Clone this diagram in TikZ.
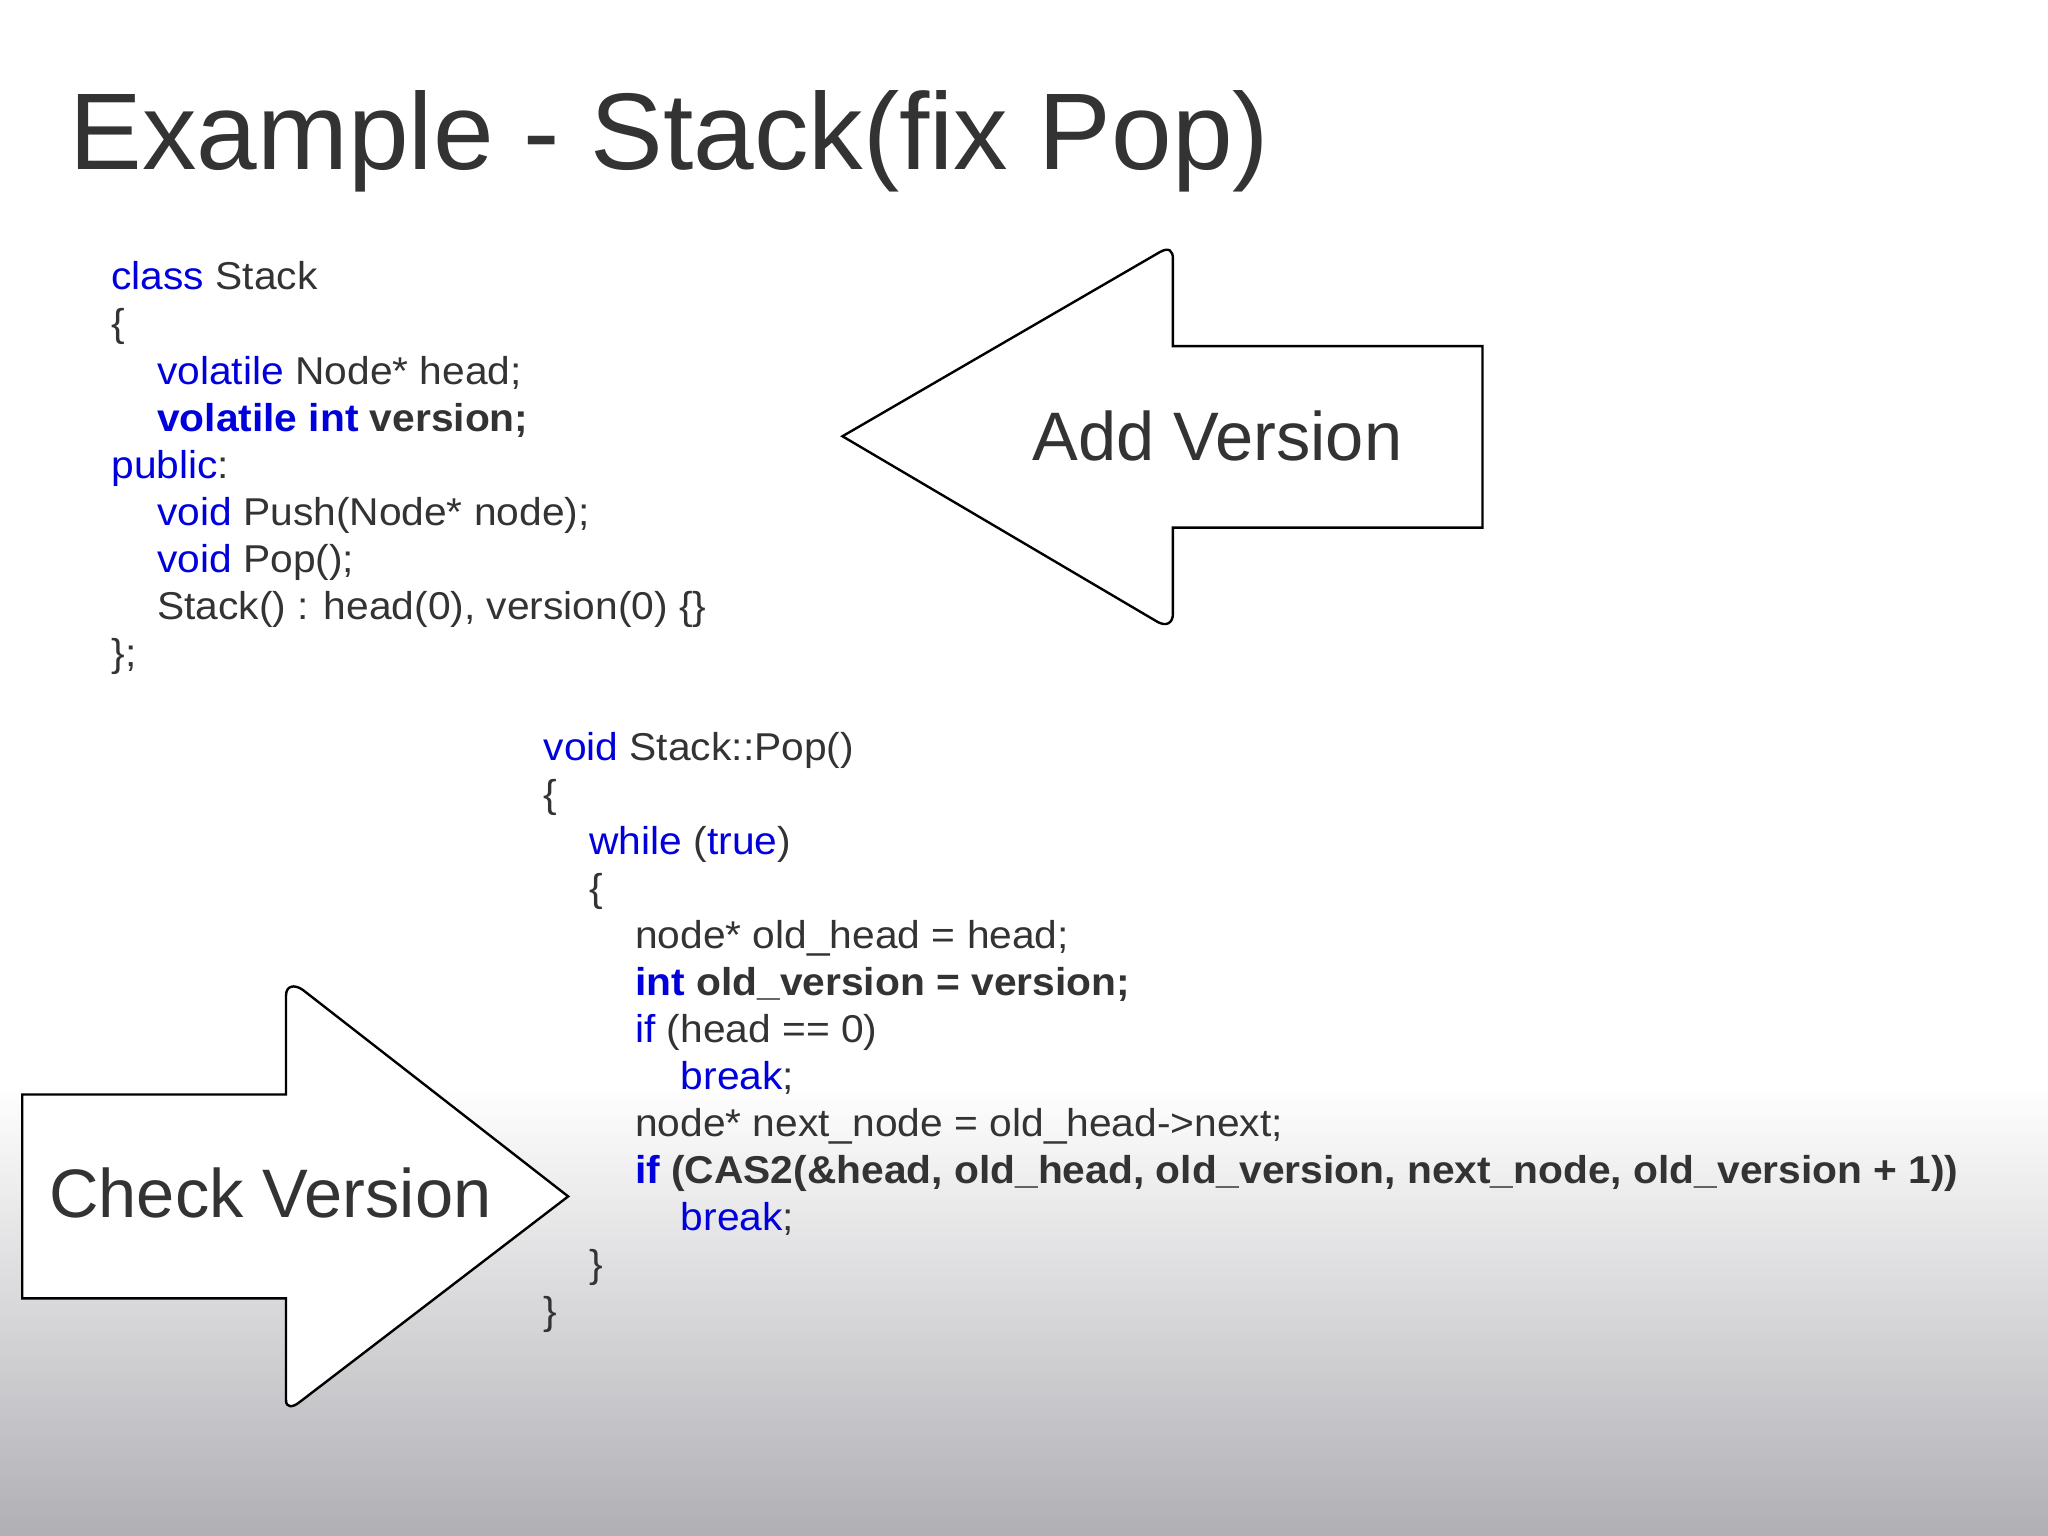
\documentclass[tikz,border=0pt]{standalone}
\usepackage{fontspec}
\setmainfont{Liberation Sans}
\newfontfamily\codefont{Liberation Sans}[FakeStretch=1.05]
\definecolor{kw}{HTML}{0000DD}
\definecolor{tx}{HTML}{333333}
\definecolor{bg}{HTML}{B0AFB4}
\newcommand\kw[1]{\textcolor{kw}{#1}}
\begin{document}
\begin{tikzpicture}[x=0.653pt,y=-0.653pt,
  code/.style={anchor=base west,inner sep=0,text=tx,font=\codefont\fontsize{19.4}{22}\selectfont},
  arr/.style={draw=black,line width=1.2pt,fill=white,line join=miter},
  lab/.style={text=tx,font=\fontsize{34.3}{40}\selectfont}]
\useasboundingbox (0,0) rectangle (1568,1176);
\fill[white] (0,0) rectangle (1568,830);
\shade[top color=white,bottom color=bg] (0,830) rectangle (1568,1176);
\node[anchor=base west,inner sep=0,text=tx,font=\fontsize{54.5}{66}\selectfont] (title) at (53,130) {Example - Stack(fix Pop)};
% class code
\node[code] (c1) at (85,222) {\kw{class} Stack};
\node[code] (c2) at (85,258) {\{};
\node[code] (c3) at (120,294) {\kw{volatile} Node* head;};
\node[code] (c4) at (120,330) {\bfseries\kw{volatile int} version;};
\node[code] (c5) at (85,366) {\kw{public}:};
\node[code] (c6) at (120,402) {\kw{void} Push(Node* node);};
\node[code] (c7) at (120,438) {\kw{void} Pop();};
\node[code] (c8) at (120,474) {Stack() : head(0), version(0) \{\}};
\node[code] (c9) at (85,510) {\};};
% pop code
\node[code] (p1) at (416,582) {\kw{void} Stack::Pop()};
\node[code] (p2) at (416,618) {\{};
\node[code] (p3) at (451,654) {\kw{while} (\kw{true})};
\node[code] (p4) at (451,690) {\{};
\node[code] (p5) at (486,726) {node* old\_head = head;};
\node[code] (p6) at (486,762) {\bfseries\kw{int} old\_version = version;};
\node[code] (p7) at (486,798) {\kw{if} (head == 0)};
\node[code] (p8) at (521,834) {\kw{break};};
\node[code] (p9) at (486,870) {node* next\_node = old\_head->next;};
\node[code] (p10) at (486,906) {\bfseries\kw{if} (CAS2(\&head, old\_head, old\_version, next\_node, old\_version + 1))};
\node[code] (p11) at (521,942) {\kw{break};};
\node[code] (p12) at (451,978) {\}};
\node[code] (p13) at (416,1014) {\}};
% arrows
\draw[arr] (645,334) -- (888,193) .. controls (895,189) and (898,192) .. (898,198) -- (898,265) -- (1135,265) -- (1135,404) -- (898,404) -- (898,470) .. controls (898,477) and (893,480) .. (886,476) -- cycle;
\node[lab] (add) at (932,334) {Add Version};
\draw[arr] (435,916) -- (230,1073) .. controls (224,1078) and (219,1078) .. (219,1072) -- (219,994) -- (17,994) -- (17,838) -- (219,838) -- (219,762) .. controls (219,755) and (225,753) .. (232,758) -- cycle;
\node[lab] (chk) at (207,913) {Check Version};
\end{tikzpicture}
\end{document}
